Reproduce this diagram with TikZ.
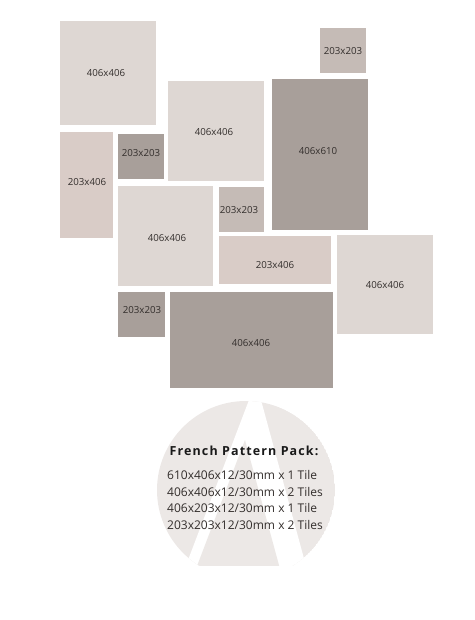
\documentclass[tikz,border=0pt]{standalone}
\usepackage{fontspec}
\setmainfont{Open Sans}
\newfontfamily\packfont[LetterSpace=9]{Open Sans}
\definecolor{tilelight}{HTML}{DED7D3}
\definecolor{tilepink}{HTML}{D9CCC7}
\definecolor{tilemid}{HTML}{C5BBB6}
\definecolor{tiledark}{HTML}{A89F9A}
\definecolor{logogrey}{HTML}{ECE8E6}
\definecolor{labeltext}{HTML}{332E2C}

\begin{document}
\begin{tikzpicture}[x=1pt,y=-1pt,
  tilelabel/.style={text=labeltext,font=\fontsize{9.7}{11}\selectfont,inner sep=0pt},
  packline/.style={anchor=west,text=labeltext,font=\fontsize{12}{14}\selectfont,inner sep=0pt}]
\useasboundingbox (0,0) rectangle (474,620);
%\draw[gray,thin,step=20] (0,0) grid (474,620);

%tiles
\fill[tilelight] (60,21) rectangle (156,125);
\fill[tilemid] (320,28) rectangle (366,73);
\fill[tilelight] (168,81) rectangle (264,181);
\fill[tiledark] (272,79) rectangle (368,230);
\fill[tilepink] (60,132) rectangle (113,238);
\fill[tiledark] (118,134) rectangle (164,179);
\fill[tilelight] (118,186) rectangle (213,286);
\fill[tilemid] (219,187) rectangle (264,232);
\fill[tilepink] (219,236) rectangle (331,284);
\fill[tilelight] (337,235) rectangle (433,334);
\fill[tiledark] (118,292) rectangle (165,337);
\fill[tiledark] (170,292) rectangle (333,388);

%tile sizes
\node[tilelabel] (a) at (106,73) {406x406};
\node[tilelabel] (b) at (343,51) {203x203};
\node[tilelabel] (c) at (214,132) {406x406};
\node[tilelabel] (d) at (318,151) {406x610};
\node[tilelabel] (e) at (87,182) {203x406};
\node[tilelabel] (f) at (141,153) {203x203};
\node[tilelabel] (g) at (167,238) {406x406};
\node[tilelabel] (h) at (239,210) {203x203};
\node[tilelabel] (i) at (275,265) {203x406};
\node[tilelabel] (j) at (385,285) {406x406};
\node[tilelabel] (k) at (142,310) {203x203};
\node[tilelabel] (l) at (251,343) {406x406};

%logo
\begin{scope}
\clip (0,0) rectangle (474,565);
\clip (246,490) circle (89);
\fill[logogrey] (246,490) circle (89);
\fill[white] (256,381.6) -- (180.4,580) -- (309.8,580) -- cycle;
\fill[logogrey] (245,440) -- (191.7,580) -- (283,580) -- cycle;
\end{scope}

%pack list
\node[text=black!90,font=\packfont\bfseries\fontsize{12.5}{14}\selectfont,inner sep=0pt] (title) at (244,451) {French Pattern Pack:};
\node[packline] (p1) at (167,475) {610x406x12/30mm x 1 Tile};
\node[packline] (p2) at (167,492) {406x406x12/30mm x 2 Tiles};
\node[packline] (p3) at (167,508) {406x203x12/30mm x 1 Tile};
\node[packline] (p4) at (167,525) {203x203x12/30mm x 2 Tiles};
\end{tikzpicture}
\end{document}
